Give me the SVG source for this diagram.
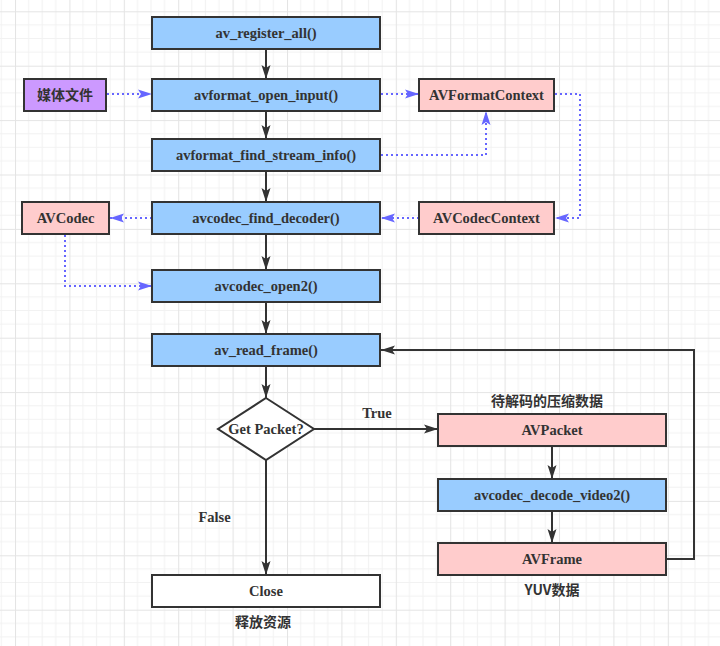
<svg xmlns="http://www.w3.org/2000/svg" width="720" height="646" viewBox="0 0 720 646">
<defs>
<pattern id="grid" patternUnits="userSpaceOnUse" x="15" y="11.3" width="54.4" height="54.4">
<rect width="54.4" height="54.4" fill="#ffffff"/>
<path d="M13.6,0V54.4M27.2,0V54.4M40.8,0V54.4M0,13.6H54.4M0,27.2H54.4M0,40.8H54.4" stroke="#f2f2f2" stroke-width="1" fill="none"/>
<path d="M0.5,0V54.4M0,0.5H54.4" stroke="#e4e4e4" stroke-width="1" fill="none"/>
</pattern>
<marker id="ab" markerUnits="userSpaceOnUse" markerWidth="16" markerHeight="12" refX="14" refY="5" orient="auto">
<path d="M0,0.5 L14,5 L0,9.5 L3,5 z" fill="#333333"/>
</marker>
<marker id="au" markerUnits="userSpaceOnUse" markerWidth="16" markerHeight="12" refX="14" refY="5" orient="auto">
<path d="M0,0.5 L14,5 L0,9.5 L3,5 z" fill="#6666ff"/>
</marker>
</defs>
<style>
.box{stroke:#333333;stroke-width:2}
.blue{fill:#99ccff}
.pink{fill:#ffcccc}
.purple{fill:#cc99ff}
.white{fill:#ffffff}
.t{font-family:"Liberation Serif","Times New Roman",serif;font-weight:bold;font-size:14.5px;fill:#333333;text-anchor:middle}
.c{font-family:"Noto Sans CJK SC","Noto Sans",sans-serif;font-weight:bold;font-size:14px;fill:#333333;text-anchor:middle}
.solid{fill:none;stroke:#333333;stroke-width:2;marker-end:url(#ab)}
.dot{fill:none;stroke:#6666ff;stroke-width:2;stroke-dasharray:2 3;marker-end:url(#au)}
</style>
<rect width="720" height="646" fill="url(#grid)"/>

<g id="connectors">
<path class="solid" d="M266,49V79"/>
<path class="solid" d="M266,111V139"/>
<path class="solid" d="M266,171V202"/>
<path class="solid" d="M266,234V270"/>
<path class="solid" d="M266,302V334"/>
<path class="solid" d="M266,366V398"/>
<path class="solid" d="M266,460V575"/>
<path class="solid" d="M314,429H438"/>
<path class="solid" d="M552,446V479"/>
<path class="solid" d="M552,511V543"/>
<path class="solid" d="M666,559H694V350H381"/>
<path class="dot" d="M107,94H152"/>
<path class="dot" d="M381,94H419"/>
<path class="dot" d="M381,155H486V111"/>
<path class="dot" d="M555,94H580V218H555"/>
<path class="dot" d="M419,218H381"/>
<path class="dot" d="M152,218H110"/>
<path class="dot" d="M65,235V286H152"/>
</g>

<g id="n_register"><rect class="box blue" x="152" y="17" width="228" height="32"/><text class="t" x="266" y="38">av_register_all()</text></g>
<g id="n_open_input"><rect class="box blue" x="152" y="79" width="228" height="32"/><text class="t" x="266" y="100">avformat_open_input()</text></g>
<g id="n_find_stream"><rect class="box blue" x="152" y="139" width="228" height="32"/><text class="t" x="266" y="160">avformat_find_stream_info()</text></g>
<g id="n_find_decoder"><rect class="box blue" x="152" y="202" width="228" height="32"/><text class="t" x="266" y="223">avcodec_find_decoder()</text></g>
<g id="n_open2"><rect class="box blue" x="152" y="270" width="228" height="32"/><text class="t" x="266" y="291">avcodec_open2()</text></g>
<g id="n_read_frame"><rect class="box blue" x="152" y="334" width="228" height="32"/><text class="t" x="266" y="355">av_read_frame()</text></g>
<g id="n_get_packet"><path class="box white" d="M266,398 L314,429 L266,460 L218,429 z"/><text class="t" x="266" y="434">Get Packet?</text></g>
<g id="n_close"><rect class="box white" x="152" y="575" width="228" height="32"/><text class="t" x="266" y="596">Close</text><text class="c" x="263" y="627">释放资源</text></g>
<g id="n_media"><rect class="box purple" x="24" y="79" width="82" height="32"/><text class="c" x="65" y="100">媒体文件</text></g>
<g id="n_avcodec"><rect class="box pink" x="22" y="202" width="87" height="32"/><text class="t" x="65.5" y="223">AVCodec</text></g>
<g id="n_fmtctx"><rect class="box pink" x="419" y="79" width="135" height="32"/><text class="t" x="486.5" y="100">AVFormatContext</text></g>
<g id="n_codecctx"><rect class="box pink" x="419" y="202" width="135" height="32"/><text class="t" x="486.5" y="223">AVCodecContext</text></g>
<g id="n_packet"><text class="c" x="547" y="406">待解码的压缩数据</text><rect class="box pink" x="438" y="414" width="228" height="32"/><text class="t" x="552" y="435">AVPacket</text></g>
<g id="n_decode"><rect class="box blue" x="438" y="479" width="228" height="32"/><text class="t" x="552" y="500">avcodec_decode_video2()</text></g>
<g id="n_frame"><rect class="box pink" x="438" y="543" width="228" height="32"/><text class="t" x="552" y="564">AVFrame</text><text class="c" x="552" y="595">YUV数据</text></g>
<g id="labels"><text class="t" x="377" y="418">True</text><text class="t" x="214.5" y="522">False</text></g>
</svg>
